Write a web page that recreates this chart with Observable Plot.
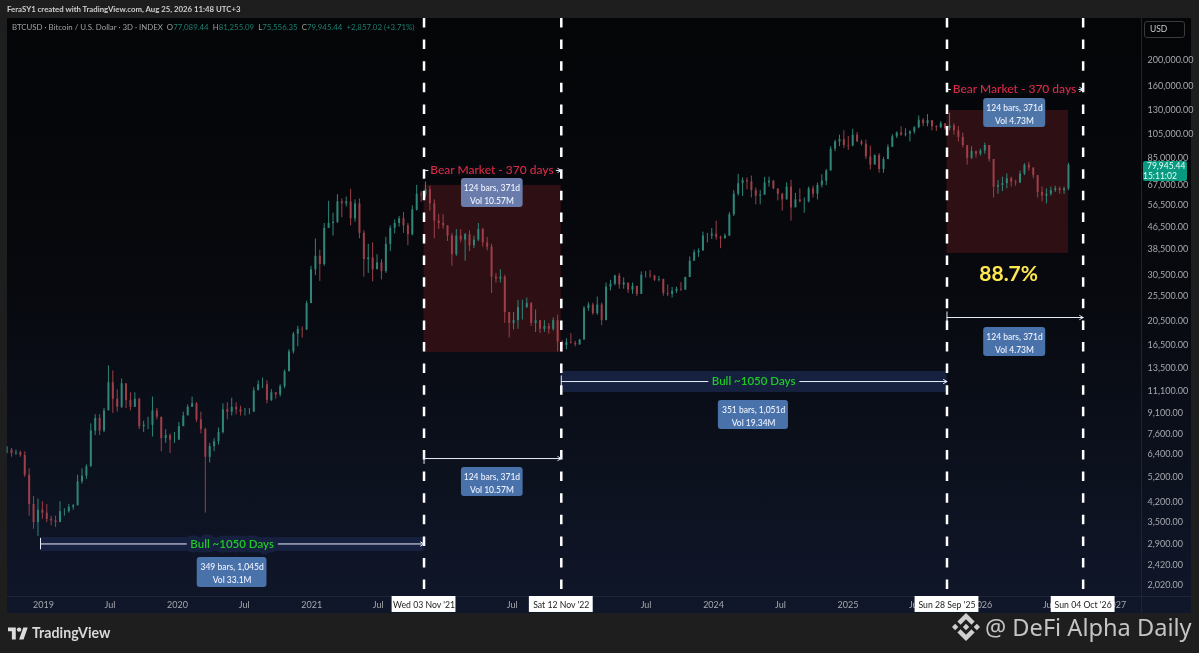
<!DOCTYPE html>
<html><head><meta charset="utf-8">
<script src="https://cdn.jsdelivr.net/npm/d3@7"></script>
<script src="https://cdn.jsdelivr.net/npm/@observablehq/plot@0.6"></script>
<style>
html,body{margin:0;padding:0;width:1199px;height:653px;overflow:hidden;background:#1e1e1e;font-family:Lato,Roboto,sans-serif}
.a{position:absolute;white-space:nowrap;filter:blur(.3px)}
#panel{left:7px;top:18px;width:1184px;height:595px;background:linear-gradient(#040507 0%,#07090e 45%,#10172a 100%);filter:none}
#timeline{left:7px;top:596px;width:1184px;height:1px;background:#1f2535;filter:none}
#priceline{left:1141px;top:18px;width:1px;height:595px;background:#20242e;filter:none}
#chart{left:0;top:0}
#chart svg{display:block;background:transparent}
</style></head><body>
<div class="a" id="panel"></div><div class="a" id="timeline"></div><div class="a" id="priceline"></div>
<div class="a" id="chart"></div>
<div class="a" style="left:7px;top:4px;font-size:7.8px;font-weight:700;color:#cfcfcf">FeraSY1 created with TradingView.com, Aug 25, 2026 11:48 UTC+3</div>
<div class="a" style="left:12px;top:22px;font-size:7.85px;color:#a0a0a0">BTCUSD · Bitcoin / U.S. Dollar · 3D · INDEX&nbsp; O<span style="color:#1f7f70">77,089.44</span>&nbsp; H<span style="color:#1f7f70">81,255.09</span>&nbsp; L<span style="color:#1f7f70">75,556.35</span>&nbsp; C<span style="color:#1f7f70">79,945.44</span>&nbsp; <span style="color:#1f7f70">+2,857.02 (+3.71%)</span></div>
<div class="a" style="left:1144px;top:21px;width:39px;height:15px;border:1px solid #3a3a3a;border-radius:3px;color:#c8c8c8;font-size:8.5px;line-height:15px;text-indent:5px">USD</div>
<div class="a" style="left:1143px;top:161px;width:44px;height:20px;background:#089981;border-radius:2px;color:#e8fff8;font-size:8.5px;line-height:10px;text-indent:4px;padding-top:0">79,945.44<br>15:11:02</div>
<svg class="a" style="left:8px;top:627px" width="20" height="13" viewBox="0 0 36 22"><path fill="#dcdcdc" d="M14 22H7V7H0V0h14zM28 22h-8L27.5 0h8z"/><circle fill="#dcdcdc" cx="20" cy="4" r="4"/></svg>
<div class="a" style="left:32px;top:624px;font-size:14.2px;font-weight:700;color:#d8d8d8">TradingView</div>
<svg class="a" style="left:952px;top:613px" width="28" height="28" viewBox="0 0 126.61 126.61"><path fill="#cfcfcf" d="M38.73 53.2l24.59-24.58 24.6 24.6 14.3-14.31L63.32 0 24.43 38.9l14.3 14.3zM0 63.31l14.3-14.31 14.31 14.31-14.31 14.3zM38.73 73.41l24.59 24.59 24.6-24.6 14.31 14.29-38.9 38.91-38.91-38.88-.02-.02zM98 63.31l14.3-14.31 14.31 14.3-14.31 14.32zM77.83 63.3L63.32 48.78 52.59 59.51l-1.24 1.23-2.54 2.54 14.51 14.5 14.51-14.47z"/></svg>
<div class="a" style="left:985px;top:611px;font-family:'Noto Sans';font-size:23.6px;color:#c4c4c4">@ DeFi Alpha Daily</div>
<script>
// 12-day price bars, in thousands of US dollars, year by year
const highs = [
 6.8,6.7,6.6,6.55,6.5,5.6,4.4,4.3,4.2,
 4.1,3.7,3.7,4.2,3.95,4.1,4.1,5.3,5.6,5.8,8.3,9.0,9.0,9.5,13.8,13.2,11.2,12.3,11.0,10.9,10.9,10.4,8.5,8.8,10.5,9.5,8.8,7.9,7.6,7.7,
 8.4,9.2,9.8,10.5,10.0,9.2,8.0,7.0,7.3,8.0,9.9,10.0,10.4,10.0,9.7,9.5,9.5,11.4,12.1,12.4,12.1,11.2,10.9,11.7,13.3,15.9,18.5,19.5,19.4,24.3,33.0,
 41.9,38,48,58.3,52.5,61.7,59.5,60.5,64.8,59,59.5,45,40,40.5,36.5,35,42.5,47,49.5,51,52.9,48,56,67,63.5,69,66.5,59,52,51.9,
 47,44,45.5,45.5,44,45,43,48,46,42.5,40,31,32,30.5,22,22,24.5,24.5,25,24,22.5,20.5,20.5,20,21,21.5,17.2,17.5,18.3,17.1,
 17.4,23.2,24,23.9,25.2,23.9,28.5,29.2,30.5,31,29.8,27.8,28.5,27.4,31.4,31.5,31.8,30.5,30.2,29.5,28,27.4,27.5,28.6,30,35.8,38,38.4,44.5,44,45.9,
 49,43,43.8,52.8,64,73.8,71.5,71.5,72.7,65.5,64,71.9,72,70,63.8,62.5,68.5,70,62.5,65,60,66,66.5,68.4,73.6,77,94,99.5,104,108,
 102.7,109.5,106.5,99.5,99.5,94.5,87.5,88.5,85.5,95.5,104.5,107,112,110,108,112,123,120,124.5,118,113,117,114,126,115,112,106,94,94,90.5,92,
 97,94,84,70,72,74,72,70,76,81,82,78,73,66,65,66,66.5,66,66,81.3];
const lows = [
 6.4,6.2,6.3,6.2,5.2,3.7,3.3,3.1,3.6,
 3.5,3.4,3.35,3.5,3.7,3.8,3.9,4.1,4.9,5.1,5.7,7.5,7.5,7.7,9.5,9.1,9.2,9.5,9.5,9.3,9.6,7.9,7.7,7.9,7.4,8.6,6.5,7.0,6.4,7.0,
 7.2,8.2,9.0,9.6,8.4,7.6,3.8,5.9,6.5,6.9,7.6,8.6,8.9,9.0,8.9,8.9,9.0,9.2,11.1,11.3,9.9,10.1,10.3,10.5,11.3,13.2,15.3,16.3,17.6,18.8,23.9,
 30.4,28.9,33,46,43,48,50.5,55.5,47,48.5,42,30,31,28.8,32.5,29.3,31,37.5,43.8,46.5,44,39.5,43,53.5,57.8,60,53.5,42,45.5,45.7,
 41,33,36,40.5,34.5,37.5,38.5,41,39,37.8,26,28.5,28.5,20,17.6,18.9,19,20.6,22.8,19.5,18.5,18.3,18.5,18.2,18.7,15.6,15.5,15.9,16.7,16.3,
 16.5,17.3,22.2,21.5,21.5,19.6,20.5,26.6,27.8,27,27,26,25.8,25.3,25.8,29.8,29.7,28.9,28.8,25.4,25.3,25,26,26.5,26.7,30,34.5,35.7,37.8,40.5,41.7,
 41.5,38.5,41.9,42.8,51,61,60.8,64.5,60,56.5,56.5,61.5,66,64.5,58.5,53.5,59,49,56,57.5,52.5,57.5,60,59,65.5,66.8,76,90,94,92.5,
 91,94,97.8,94.5,84,76.6,81,74.5,74.5,84,93.5,101,103,102.5,98,105,110,112,112,108,107.5,110,108.5,108,104,98,93,80,84,85,86.5,
 88,82,60,62,63.5,65,66,66.5,68,73,76,71,60,58,57,61,63,62,62,64];
const closes = [
 6.6,6.4,6.45,6.3,5.3,4.1,3.5,3.9,3.8,
 3.6,3.55,3.5,3.85,3.85,4.0,4.05,5.0,5.25,5.7,7.8,8.7,7.8,9.3,11.9,10.3,9.6,11.8,10.2,9.6,10.3,8.1,8.2,8.2,9.3,8.8,7.3,7.5,7.2,7.2,
 8.1,8.9,9.6,9.9,8.6,7.9,6.2,6.8,7.1,7.7,9.4,9.2,9.6,9.4,9.2,9.2,9.2,11.1,11.7,11.7,10.2,10.9,10.7,11.5,13.1,15.6,18.2,19.0,18.9,23.8,32.0,
 36,33.5,46,48,48.5,58,57,58,50,57,44,35,35.5,32,34,31.5,40,46,48,50,47,43.5,54,62,61.5,64.5,57,49,48,47,
 43,36.5,43,41.5,43.5,39.5,41.5,45.5,40.5,39,30,29.5,30,22,20,20.5,23,23,23.8,20,20.5,19,19.5,19,20.5,17,16.5,16.9,16.8,16.6,
 17.3,22.8,23.5,21.8,23.5,20.5,27.5,28.2,30.3,28,28.5,26.8,27.7,25.8,30.5,30.5,30.3,29.2,29.4,26,25.8,26.5,27,26.8,29.9,34.5,37.2,37.7,43,43,43.7,
 42.5,42,43,51.8,62,68,69.8,69,64,61,61.5,68.5,69.5,65,62,59,66,55,59,58,58,65,62,67,69.5,76,92,98,100,95,
 94.5,104,98,96,86,80,87,77,84,93.5,102.5,106,104,105,107,111,118.5,115,118,112,111,115,110,113,108,102,95,85,90,88,90.5,
 95,84,66,67,68,71,69,68.5,74,80,78,73,63,61,62,64,65,64,65,79.945];

const firstBar = "2018-09-24", barDays = 12;
const yTicks = [200000,160000,130000,105000,85000,67000,56500,46500,38500,30500,25500,20500,16500,13500,11100,9100,7600,6400,5200,4200,3500,2900,2420,2020];
const xTicks = ["2019-01-01","2019-07-01","2020-01-01","2020-07-01","2021-01-01","2021-07-01","2022-07-01","2023-07-01","2024-01-01","2024-07-01","2025-01-01","2025-07-01","2026-01-01","2026-07-01","2027-01-01"].map(d=>new Date(d));
const cycleDates = ["2021-11-03","2022-11-12","2025-09-28","2026-10-04"].map(d=>new Date(d));
const dateFlags = ["Wed 03 Nov '21","Sat 12 Nov '22","Sun 28 Sep '25","Sun 04 Oct '26"];

const bearZones = [
 {x1:"2021-11-03",x2:"2022-11-12",y1:15500,y2:67000},
 {x1:"2025-09-28",x2:"2026-08-25",y1:36900,y2:129100}];
const bullBands = [
 {x1:"2018-12-24",x2:"2021-11-03",y1:2716,y2:3070,line:2902,label:"Bull ~1050 Days",mid:"2020-05-29"},
 {x1:"2022-11-12",x2:"2025-09-28",y1:10930,y2:13140,line:12030,label:"Bull ~1050 Days",mid:"2024-04-19"}];
const bearSpans = [
 {x1:"2021-11-03",x2:"2022-11-12",y:76350,mid:"2022-05-07",label:"Bear Market - 370 days"},
 {x1:"2025-09-28",x2:"2026-10-04",y:155200,mid:"2026-03-31",label:"Bear Market - 370 days"}];
const plainSpans = [
 {x1:"2021-11-03",x2:"2022-11-12",y:6130},
 {x1:"2025-09-28",x2:"2026-10-04",y:21070}];
const statBoxes = [
 {x1:"2020-02-24",x2:"2020-09-01",y1:1983,y2:2577,y:2260,mid:"2020-05-29",label:"349 bars, 1,045d\nVol 33.1M",fill:"#4a72aa"},
 {x1:"2024-01-14",x2:"2024-07-23",y1:7906,y2:10190,y:8980,mid:"2024-04-19",label:"351 bars, 1,051d\nVol 19.34M",fill:"#4a72aa"},
 {x1:"2022-02-13",x2:"2022-07-31",y1:55200,y2:71170,y:62700,mid:"2022-05-07",label:"124 bars, 371d\nVol 10.57M",fill:"#6a7cab"},
 {x1:"2022-02-13",x2:"2022-07-31",y1:4397,y2:5670,y:4990,mid:"2022-05-07",label:"124 bars, 371d\nVol 10.57M",fill:"#4a72aa"},
 {x1:"2026-01-06",x2:"2026-06-24",y1:111200,y2:143400,y:126300,mid:"2026-03-31",label:"124 bars, 371d\nVol 4.73M",fill:"#4f76a8"},
 {x1:"2026-01-06",x2:"2026-06-24",y1:14980,y2:19300,y:17010,mid:"2026-03-31",label:"124 bars, 371d\nVol 4.73M",fill:"#4a72aa"}];
const callout = [{x:"2026-03-15",y:30700,label:"88.7%"}];

const D = s => new Date(s);
const start = D(firstBar);
const bars = closes.map((c,i)=>({
  date:d3.utcDay.offset(start,i*barDays),
  high:highs[i]*1000, low:lows[i]*1000, close:c*1000,
  open:(i?closes[i-1]:c)*1000}));
const up = "#2f8578", down = "#9c3f49";
const barColor = d => d.close>=d.open ? up : down;
const bgDark = "#07090e", bandBg = "#16213f", lineCol = "#e8eefc";
const font = "Lato, Roboto, sans-serif";
const flagY = {y1:1593,y2:1832,y:1702};
const xEnd = D("2027-03-12");

const chart = Plot.plot({
  width:1199,height:653,marginLeft:7,marginRight:58,marginTop:18,marginBottom:57,
  style:{background:"transparent",fontFamily:font,overflow:"visible"},
  x:{type:"utc",domain:[D("2018-09-25"),xEnd]},
  y:{type:"log",domain:[1832,288800],axis:null},
  marks:[
    Plot.rect(bearZones,{x1:d=>D(d.x1),x2:d=>D(d.x2),y1:"y1",y2:"y2",fill:"#2e0f14"}),
    Plot.rect(bullBands,{x1:d=>D(d.x1),x2:d=>D(d.x2),y1:"y1",y2:"y2",fill:bandBg}),
    Plot.ruleX(bars,{x:"date",y1:"low",y2:"high",stroke:barColor,strokeWidth:1,imageFilter:"blur(0.4px)"}),
    Plot.ruleX(bars,{x:"date",y1:"open",y2:"close",stroke:barColor,strokeWidth:2,imageFilter:"blur(0.4px)"}),
    Plot.ruleX(cycleDates,{stroke:"#fff",strokeWidth:2.5,strokeDasharray:"9.5 12.1"}),
    // white measurement lines
    Plot.arrow(bullBands,{x1:d=>D(d.x1),x2:d=>D(d.x2),y:"line",stroke:lineCol,strokeWidth:1,headLength:6,bend:0}),
    Plot.ruleX(bullBands,{x:d=>D(d.x1),y1:d=>d.line*.95,y2:d=>d.line*1.05,stroke:lineCol}),
    Plot.arrow(bearSpans,{x1:d=>D(d.x1),x2:d=>D(d.x2),y:"y",stroke:lineCol,strokeWidth:1,headLength:6,bend:0}),
    Plot.arrow(plainSpans,{x1:d=>D(d.x1),x2:d=>D(d.x2),y:"y",stroke:lineCol,strokeWidth:1,headLength:6,bend:0}),
    Plot.ruleX(plainSpans,{x:d=>D(d.x1),y1:d=>d.y*.95,y2:d=>d.y*1.05,stroke:lineCol}),
    Plot.text(bullBands,{x:d=>D(d.mid),y:"line",text:"label",fill:"#1fc926",fontSize:11.5,fontWeight:600,stroke:bandBg,strokeWidth:9}),
    Plot.text(bearSpans,{x:d=>D(d.mid),y:"y",text:"label",fill:"#d92b45",fontSize:12,fontWeight:500,stroke:bgDark,strokeWidth:6}),
    Plot.rect(statBoxes,{x1:d=>D(d.x1),x2:d=>D(d.x2),y1:"y1",y2:"y2",fill:"fill",rx:3}),
    Plot.text(statBoxes,{x:d=>D(d.mid),y:"y",text:"label",fill:"#eef3ff",fontSize:8.5,fontWeight:500,lineHeight:1.55}),
    Plot.text(callout,{x:d=>D(d.x),y:"y",text:"label",fill:"#ffe84d",fontSize:21,fontWeight:700}),
    // price labels, placed through the y scale
    Plot.text(yTicks,{x:()=>xEnd,y:d=>d,text:d=>d3.format(",.2f")(d),textAnchor:"start",dx:6,fill:"#a6a8ad",fontSize:9}),
    Plot.axisX({anchor:"bottom",ticks:xTicks,tickSize:0,tickPadding:5,fill:"#a6a8ad",fontSize:9,label:null,
      tickFormat:d=>d.getUTCMonth()===0?String(d.getUTCFullYear()):"Jul"}),
    // date flags on the time axis
    Plot.rect(cycleDates,{x1:d=>d3.utcDay.offset(d,-87),x2:d=>d3.utcDay.offset(d,87),y1:flagY.y1,y2:flagY.y2,fill:"#fff"}),
    Plot.text(cycleDates,{x:d=>d,y:flagY.y,text:(d,i)=>dateFlags[i],fill:"#222",fontSize:8.7})
  ]
});
document.getElementById("chart").appendChild(chart);
</script>
</body></html>
